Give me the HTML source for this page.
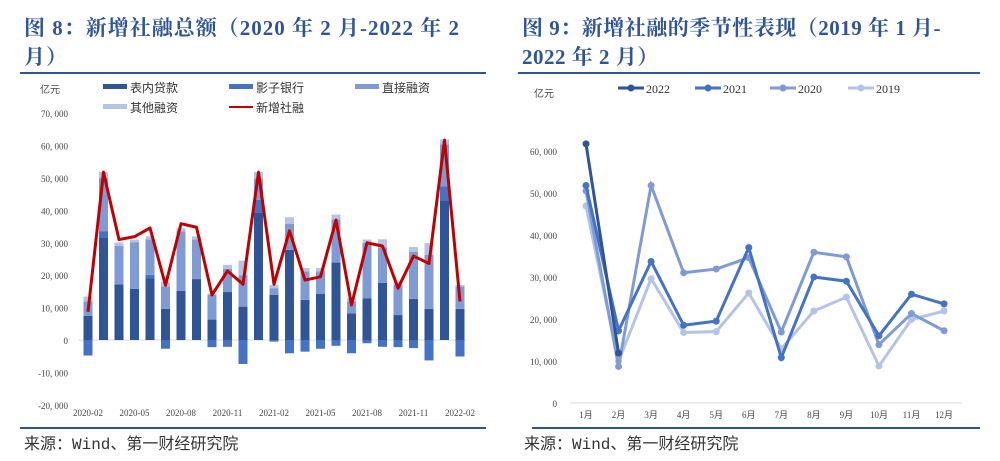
<!DOCTYPE html>
<html><head><meta charset="utf-8"><style>
body{margin:0;width:1000px;height:461px;background:#fff;overflow:hidden;position:relative;font-family:"Liberation Serif","Noto Serif CJK SC",serif}
.t{position:absolute;color:#2f5597;font-weight:bold;font-size:21px;line-height:29px;letter-spacing:1px;white-space:nowrap}
.src{position:absolute;top:430px;font-size:16px;color:#333;font-family:"Liberation Mono","Noto Sans CJK SC",monospace}
.hr{position:absolute;height:2px;background:#2f5597}
svg{position:absolute;left:0;top:0}
svg text{font-family:"Liberation Serif","Noto Sans CJK SC",serif;fill:#444}
</style></head><body>
<div class="t" style="left:24px;top:14px">图 8：新增社融总额（2020 年 2 月-2022 年 2<br>月）</div>
<div class="t" style="left:522px;top:14px;letter-spacing:0.5px">图 9：新增社融的季节性表现（2019 年 1 月-<br>2022 年 2 月）</div>
<div class="hr" style="left:20px;top:72px;width:466px"></div>
<div class="hr" style="left:518px;top:72px;width:462px"></div>
<div class="hr" style="left:20px;top:427px;width:466px"></div>
<div class="hr" style="left:532px;top:427px;width:448px"></div>
<div class="src" style="left:24px">来源：Wind、第一财经研究院</div>
<div class="src" style="left:524px">来源：Wind、第一财经研究院</div>
<svg id="c" width="1000" height="461"></svg>
<script>
const months=["2020-02","2020-03","2020-04","2020-05","2020-06","2020-07","2020-08","2020-09","2020-10","2020-11","2020-12","2021-01","2021-02","2021-03","2021-04","2021-05","2021-06","2021-07","2021-08","2021-09","2021-10","2021-11","2021-12","2022-01","2022-02"];
const loans=[7.5,31.6,17.2,15.8,19.1,9.6,15.2,18.8,6.3,14.8,10.3,39.2,13.9,27.8,12.4,14.2,23.9,8.2,12.9,17.6,7.7,12.7,9.6,43.1,9.6];
const shadow=[-4.8,2,0,0,1,-2.7,0,0,-2.2,-2.1,-7.4,4.1,-0.5,-4.1,-3.6,-2.7,-1.8,-4.1,-1,-2.1,-2.2,-2.5,-6.3,4.3,-5.1];
const direct=[4.4,16.4,11.9,14.4,10.9,6.9,18.3,12.2,7.6,7.2,9.7,6.6,2.1,8.1,8.8,7,13.3,3.7,17.1,11,9.3,14.5,16.7,13,6.9];
const other=[1.5,1.9,1,0.8,1,1.5,1,1,0.5,1.2,4.5,2,1,2,1,1,1.5,1,1,2.5,1,1.5,3.6,1.5,0.5];
const tsf=[8.7,51.8,31.0,31.9,34.6,16.9,35.9,34.8,13.9,21.3,17.2,51.8,17.2,33.7,18.5,19.5,37.0,10.8,30.0,29.0,16.0,25.9,23.6,61.7,11.9];
const leftTicks=[70000,60000,50000,40000,30000,20000,10000,0,-10000,-20000];
const monthLabels=["1月","2月","3月","4月","5月","6月","7月","8月","9月","10月","11月","12月"];
const s2022=[61.7,11.9];
const s2021=[51.8,17.2,33.7,18.5,19.5,37.0,10.8,30.0,29.0,16.0,25.9,23.6];
const s2020=[50.5,8.7,51.8,31.0,31.9,34.6,16.9,35.9,34.8,13.9,21.3,17.2];
const s2019=[46.9,9.9,29.6,16.8,17.0,26.2,12.9,21.9,25.2,8.8,19.9,21.9];
const rightTicks=[60000,50000,40000,30000,20000,10000,0];
const svg=document.getElementById('c');const NS="http://www.w3.org/2000/svg";
function mk(t,a,txt){const e=document.createElementNS(NS,t);for(const k in a)e.setAttribute(k,a[k]);if(txt!==undefined)e.textContent=txt;svg.appendChild(e);return e;}
const fmt=v=>{const s=Math.abs(v).toLocaleString('en-US').replace(',',', ');return (v<0?'-':'')+s;};
// left
const ly=v=>340-v*3.24; const lx=i=>88+i*15.5;
leftTicks.forEach(t=>{const e=mk('text',{x:68,y:ly(t/1000)+4,'font-size':9,'text-anchor':'end'},fmt(t));

});
const zl=mk('line',{x1:78,x2:466,y1:ly(0),y2:ly(0),stroke:'#d9d9d9'});


const cols=['#2f5597','#4472c4','#7f9bd6','#b4c3e6'];
months.forEach((m,i)=>{let pos=0,neg=0;const parts=[loans[i],shadow[i],direct[i],other[i]];
parts.forEach((v,k)=>{if(!v)return;let y0,y1;if(v>0){y0=pos;y1=pos+v;pos=y1;}else{y0=neg+v;y1=neg;neg=y0;}
const r=mk('rect',{x:lx(i)-4.5,y:ly(y1),width:9,height:ly(y0)-ly(y1),fill:cols[k]});

});
if(i%3===0){const e=mk('text',{x:lx(i),y:416,'font-size':9,'text-anchor':'middle'},m);

}});
const lp=mk('polyline',{points:tsf.map((v,i)=>lx(i)+','+ly(v)).join(' '),fill:'none',stroke:'#c00000','stroke-width':3,'stroke-linejoin':'round'});


const ut=mk('text',{x:40,y:93,'font-size':10},'亿元');


[['表内贷款',103,87,cols[0],'r'],['影子银行',229,87,cols[1],'r'],['直接融资',355,87,cols[2],'r'],['其他融资',103,107,cols[3],'r'],['新增社融',229,107,'#c00000','l']].forEach(l=>{
const g=l[4]==='r'?mk('rect',{x:l[1],y:l[2]-3,width:24,height:5,fill:l[3]}):mk('line',{x1:l[1],x2:l[1]+24,y1:l[2],y2:l[2],stroke:l[3],'stroke-width':2});


const t=mk('text',{x:l[1]+27,y:l[2]+5,'font-size':12,style:'fill:#333'},l[0]);

});
// right
const ry=v=>403-v*4.2; const rx=i=>586+i*32.55;
rightTicks.forEach(t=>{const e=mk('text',{x:557,y:ry(t/1000)+4,'font-size':9,'text-anchor':'end'},fmt(t));

});
const rz=mk('line',{x1:570,x2:962,y1:ry(0),y2:ry(0),stroke:'#d9d9d9'});


monthLabels.forEach((m,i)=>{const e=mk('text',{x:rx(i),y:418,'font-size':9,'text-anchor':'middle'},m);

});
const rc=['#b4c3e6','#7f9bd6','#4472c4','#2f5597'];
[s2019,s2020,s2021,s2022].forEach((s,k)=>{
const p=mk('polyline',{points:s.map((v,i)=>rx(i)+','+ry(v)).join(' '),fill:'none',stroke:rc[k],'stroke-width':3});


s.forEach((v,i)=>{const c=mk('circle',{cx:rx(i),cy:ry(v),r:3.5,fill:rc[k]});

});});
const ru=mk('text',{x:534,y:97,'font-size':10},'亿元');


[['2022',618,rc[3]],['2021',695,rc[2]],['2020',770,rc[1]],['2019',848,rc[0]]].forEach(l=>{
const g=mk('line',{x1:l[1],x2:l[1]+26,y1:88,y2:88,stroke:l[2],'stroke-width':3});


const d=mk('circle',{cx:l[1]+13,cy:88,r:3.5,fill:l[2]});


const t=mk('text',{x:l[1]+28,y:93,'font-size':12,style:'fill:#333'},l[0]);

});
</script>
</body></html>
